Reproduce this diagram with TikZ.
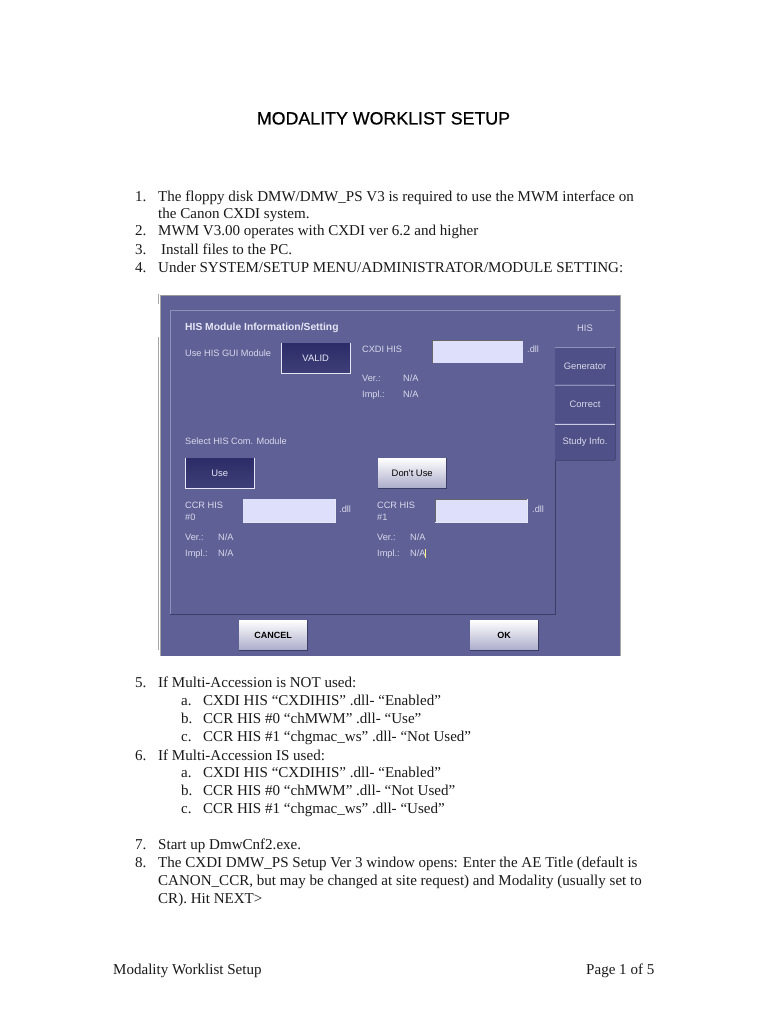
\documentclass[tikz,border=0pt]{standalone}
\usepackage{fontspec}
\setmainfont{Liberation Serif}
\newfontfamily\hdr{Liberation Sans}
\newfontfamily\titlefont[FakeBold=0.6]{Liberation Sans}
\definecolor{wincol}{HTML}{5F6096}
\definecolor{darkcol}{HTML}{2C2D68}
\definecolor{tabcol}{HTML}{4F5087}
\definecolor{inpcol}{HTML}{DEDFFA}
\definecolor{litecol}{HTML}{E6E6F5}
\definecolor{edgecol}{HTML}{8F90B8}
\definecolor{lowcol}{HTML}{3C3D66}
\definecolor{uitext}{HTML}{D8D9EA}
\tikzset{
 x=1pt,y=-1pt,
 body/.style={anchor=base west,inner sep=0pt,font=\fontsize{15.05}{16}\selectfont,text=black!90},
 ui/.style={anchor=base west,inner sep=0pt,font=\hdr\fontsize{9.2}{10}\selectfont,text=uitext},
 uic/.style={anchor=center,inner sep=0pt,font=\hdr\fontsize{9.4}{10}\selectfont,text=uitext},
 darkbtn/.style={anchor=north west,inner sep=0pt,top color=darkcol,bottom color=darkcol!65!wincol,font=\hdr\fontsize{9.4}{10}\selectfont,text=litecol},
 litebtn/.style={anchor=north west,inner sep=0pt,top color=white,bottom color=edgecol!75!white,font=\hdr\fontsize{9.4}{10}\selectfont,text=black},
 inputbox/.style={anchor=north west,inner sep=0pt,fill=inpcol},
 hi/.style={draw=litecol,line width=1pt},
 lo/.style={draw=lowcol,line width=1.2pt},
 inset/.style={draw=gray!80!black,line width=1pt},
 tabbox/.style={fill=tabcol},
 frame/.style={draw=gray!70,line width=1.2pt}
}
\begin{document}
\begin{tikzpicture}
\useasboundingbox (0,0) rectangle (768,1024);
\fill[white] (0,0) rectangle (768,1024);
\node[anchor=base,inner sep=0pt,font=\titlefont\fontsize{17.8}{18}\selectfont] (title) at (383.5,124.5) {MODALITY WORKLIST SETUP};
% list top
\node[body] (n1) at (135,201.5) {1.};
\node[body] (l1) at (158,201.5) {The floppy disk DMW/DMW\_PS V3 is required to use the MWM interface on};
\node[body] (l1b) at (158,218.5) {the Canon CXDI system.};
\node[body] (n2) at (135,236) {2.};
\node[body] (l2) at (158,236) {MWM V3.00 operates with CXDI ver 6.2 and higher};
\node[body] (n3) at (135,254.5) {3.};
\node[body] (l3) at (161,254.5) {Install files to the PC.};
\node[body] (n4) at (135,272) {4.};
\node[body] (l4) at (158,272) {Under SYSTEM/SETUP MENU/ADMINISTRATOR/MODULE SETTING:};
% window
\fill[wincol] (160,295) rectangle (621,656);
\draw[gray!80,line width=1pt] (160,295.5) -- (621,295.5);
\draw[frame] (160.5,295) -- (160.5,656);
\draw[frame] (620.5,295) -- (620.5,656);
\draw[gray!70,line width=1pt] (158,294) -- (158,304) (158,337) -- (158,650);
% inner panel
\draw[edgecol,line width=1pt] (170,614) -- (170,310.5) -- (615,310.5);
\draw[lowcol,line width=1pt] (170,614) -- (555,614) -- (555,460);
% tabs
\fill[tabbox] (555,348) rectangle (615,384);
\fill[tabbox] (555,386) rectangle (615,423);
\fill[tabbox] (555,425) rectangle (615,460);
\draw[edgecol,line width=1pt] (555,347) -- (615,347) (555,385) -- (615,385);
\draw[litecol!80!wincol,line width=1pt] (555,424) -- (615,424);
\draw[lowcol!70!wincol,line width=.8pt] (555,460) -- (615,460) (615,348) -- (615,460);
\node[uic] (thi) at (585,328) {HIS};
\node[uic] (tge) at (585,366) {Generator};
\node[uic] (tco) at (585,404) {Correct};
\node[uic] (tst) at (585,442) {Study Info.};
% labels
\node[ui,font=\hdr\bfseries\fontsize{10.3}{10}\selectfont,text=litecol] (h) at (185,330) {HIS Module Information/Setting};
\node[ui] (g) at (185,356) {Use HIS GUI Module};
\node[darkbtn,minimum width=69pt,minimum height=30pt] (valid) at (281,343) {VALID};
\draw[hi] (valid.north east) -- (valid.south east) -- (valid.south west) -- (valid.north west);
\node[ui] (c) at (362,352) {CXDI HIS};
\node[inputbox,minimum width=91pt,minimum height=23pt] (ci) at (432,340) {};
\draw[inset] (ci.south west) -- (ci.north west) -- (ci.north east);
\node[ui] (cd) at (527,352) {.dll};
\node[ui] (v1) at (362,381) {Ver.:};
\node[ui] (v1b) at (403,381) {N/A};
\node[ui] (i1) at (362,397) {Impl.:};
\node[ui] (i1b) at (403,397) {N/A};
\node[ui] (s) at (185,444) {Select HIS Com. Module};
\node[darkbtn,minimum width=69pt,minimum height=30pt] (use) at (185,458) {Use};
\draw[hi] (use.north east) -- (use.south east) -- (use.south west) -- (use.north west);
\node[litebtn,minimum width=68pt,minimum height=30pt] (dont) at (378,458) {Don't Use};
\draw[lo] (dont.north east) -- (dont.south east) -- (dont.south west);
% CCR 0
\node[ui] (c0) at (185,508) {CCR HIS};
\node[ui] (c0b) at (185,520) {\#0};
\node[inputbox,minimum width=92pt,minimum height=23pt] (i0) at (243,499) {};
\draw[hi] (i0.south west) -- (i0.south east) -- (i0.north east);
\node[ui] (d0) at (339,512) {.dll};
\node[ui] (v0) at (185,540) {Ver.:};
\node[ui] (v0b) at (218,540) {N/A};
\node[ui] (m0) at (185,556) {Impl.:};
\node[ui] (m0b) at (218,556) {N/A};
% CCR 1
\node[ui] (c2) at (377,508) {CCR HIS};
\node[ui] (c2b) at (377,520) {\#1};
\node[inputbox,minimum width=92pt,minimum height=23pt] (i1x) at (435,499) {};
\draw[inset] (i1x.south west) -- (i1x.north west) -- (i1x.north east);
\draw[hi] (i1x.south west) -- (i1x.south east) -- (i1x.north east);
\node[ui] (d1) at (532,512) {.dll};
\node[ui] (v2) at (377,540) {Ver.:};
\node[ui] (v2b) at (410,540) {N/A};
\node[ui] (m2) at (377,556) {Impl.:};
\node[ui] (m2b) at (410,556) {N/A};
\draw[yellow!50!white,line width=.6pt] (425.5,549) -- (425.5,558);
% bottom buttons
\node[litebtn,minimum width=68pt,minimum height=30pt,font=\hdr\bfseries\fontsize{9}{10}\selectfont] (cancel) at (239,620) {CANCEL};
\draw[lo] (cancel.north east) -- (cancel.south east) -- (cancel.south west);
\node[litebtn,minimum width=68pt,minimum height=30pt,font=\hdr\bfseries\fontsize{9}{10}\selectfont] (ok) at (470,620) {OK};
\draw[lo] (ok.north east) -- (ok.south east) -- (ok.south west);
% list bottom
\node[body] (n5) at (135,687) {5.};
\node[body] (l5) at (158,687) {If Multi-Accession is NOT used:};
\node[body] (a5) at (181,705) {a.};
\node[body] (a5t) at (203,705) {CXDI HIS “CXDIHIS” .dll- “Enabled”};
\node[body] (b5) at (181,723) {b.};
\node[body] (b5t) at (203,723) {CCR HIS \#0 “chMWM” .dll- “Use”};
\node[body] (c5) at (181,741) {c.};
\node[body] (c5t) at (203,741) {CCR HIS \#1 “chgmac\_ws” .dll- “Not Used”};
\node[body] (n6) at (135,760) {6.};
\node[body] (l6) at (158,760) {If Multi-Accession IS used:};
\node[body] (a6) at (181,777.5) {a.};
\node[body] (a6t) at (203,777.5) {CXDI HIS “CXDIHIS” .dll- “Enabled”};
\node[body] (b6) at (181,795) {b.};
\node[body] (b6t) at (203,795) {CCR HIS \#0 “chMWM” .dll- “Not Used”};
\node[body] (c6) at (181,813) {c.};
\node[body] (c6t) at (203,813) {CCR HIS \#1 “chgmac\_ws” .dll- “Used”};
\node[body] (n7) at (135,849) {7.};
\node[body] (l7) at (158,849) {Start up DmwCnf2.exe.};
\node[body] (n8) at (135,867) {8.};
\node[body] (l8) at (158,867) {The CXDI DMW\_PS Setup Ver 3 window opens: Enter the AE Title (default is};
\node[body] (l8b) at (158,885) {CANON\_CCR, but may be changed at site request) and Modality (usually set to};
\node[body] (l8c) at (158,903) {CR). Hit NEXT>};
% footer
\node[body] (f1) at (113,974) {Modality Worklist Setup};
\node[body] (f2) at (586,974) {Page 1 of 5};
\end{tikzpicture}
\end{document}
